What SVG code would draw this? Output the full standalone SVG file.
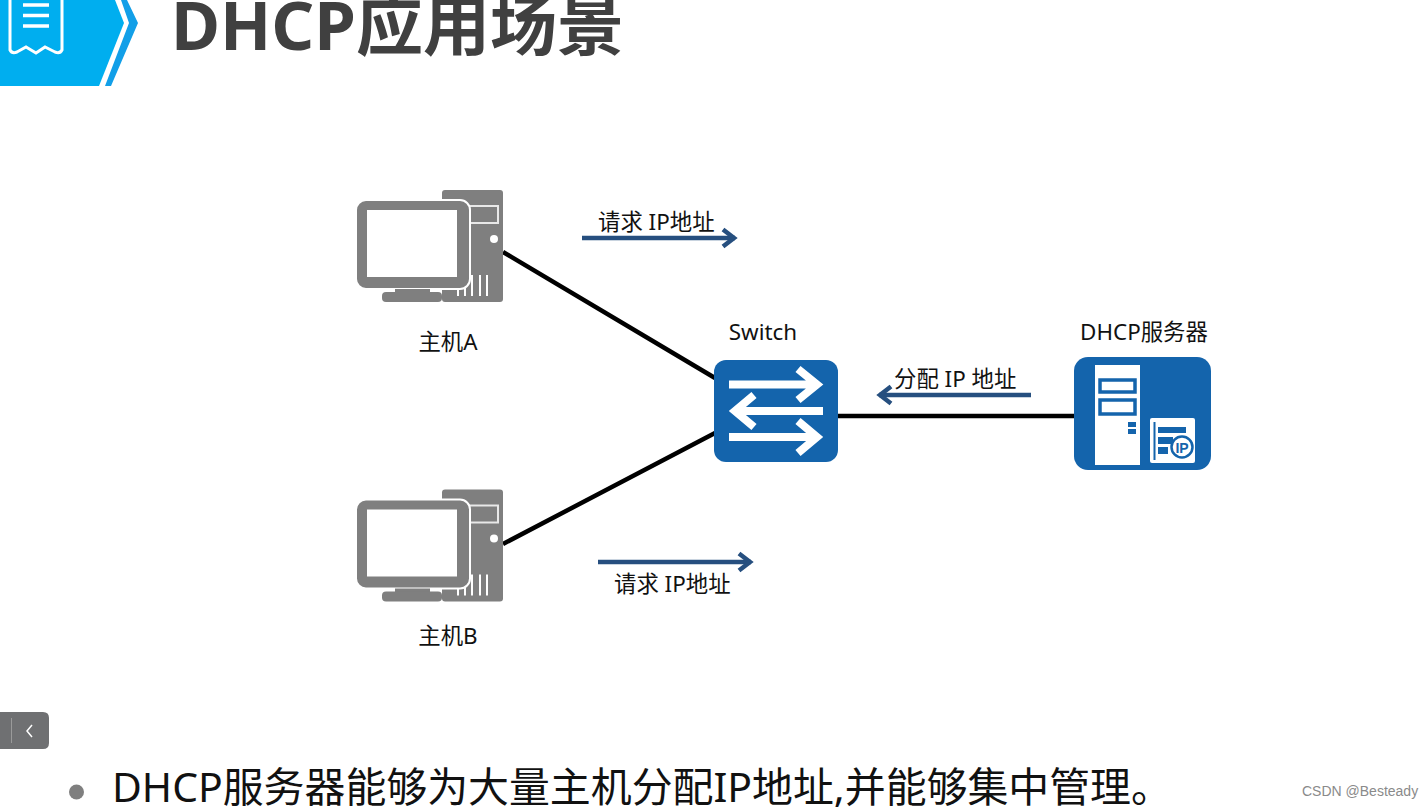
<svg xmlns="http://www.w3.org/2000/svg" width="1426" height="808" viewBox="0 0 1426 808">
<style>
text{font-family:"Noto Sans","Noto Sans CJK SC",sans-serif;fill:#111}
.lbl{font-size:22.400px}
.conn{stroke:#000;stroke-width:4.500;fill:none}
.flow{stroke:#264f7f;stroke-width:4.500;fill:none}
.gr{fill:#7f7f7f}
.ws{stroke:#fff;fill:none}
.sw{stroke:#fff;stroke-width:8;fill:none}
.blue{fill:#1464ac}
.slot{fill:#fff;stroke:#1464ac;stroke-width:3.500}
</style>
<defs>
<g id="pc">
<rect class="gr" x="442" y="190" width="61" height="112" rx="3"/>
<rect x="465" y="206" width="33" height="17" fill="none" stroke="#e8e8e8" stroke-width="2"/>
<circle cx="494" cy="239" r="4" fill="#fff"/>
<path class="ws" stroke-width="2" d="M458 287V296M465 287V296M472 275V296M480 275V296M487 275V296"/>
<rect x="356" y="200" width="114" height="89" rx="10" class="gr" stroke="#fff" stroke-width="2"/>
<rect x="367" y="210" width="90" height="67" fill="#fff"/>
<rect class="gr" x="395" y="289" width="35" height="5"/>
<rect class="gr" x="382" y="292" width="60" height="10" rx="4"/>
</g>
<marker id="ah" markerUnits="userSpaceOnUse" markerWidth="22" markerHeight="24" refX="15" refY="12" orient="auto"><path d="M3 3.500L14 12L3 20.500" fill="none" stroke="#264f7f" stroke-width="4.500"/></marker>
</defs>
<rect width="1426" height="808" fill="#fff"/>
<g id="header">
<path d="M0 0H115L124 23L99 86H0Z" fill="#00aeef"/>
<path d="M121 0H127L138 23L111 86H105L129 23Z" fill="#129fe8"/>
<path d="M10 -4V50Q12 54 17 52L26 47L36 53L45 47L55 52Q60 54 62 50V-4" fill="none" stroke="#fff" stroke-width="3"/>
<path d="M23 5H49M23 15.500H49M23 26H49" stroke="#fff" stroke-width="3.500" fill="none"/>
<text x="171" y="50" font-size="67" font-weight="700" style="fill:#404040">DHCP应用场景</text>
</g>
<g id="connectors">
<path class="conn" d="M503 252L715 378M503 544L715 433M838 416H1074"/>
<path class="flow" marker-end="url(#ah)" d="M582 238H735"/>
<path class="flow" marker-end="url(#ah)" d="M1031 395H879"/>
<path class="flow" marker-end="url(#ah)" d="M598 562H751"/>
</g>
<g id="host-a"><use href="#pc"/><text class="lbl" x="448" y="350" text-anchor="middle">主机A</text></g>
<g id="host-b"><use href="#pc" y="299.500"/><text class="lbl" x="448" y="644" text-anchor="middle">主机B</text></g>
<g id="switch">
<rect class="blue" x="714" y="360" width="124" height="102" rx="12"/>
<path class="sw" d="M729 384.500H815M798 369L817 384.500L798 400"/>
<path class="sw" d="M823 411H737M754 395L735 411L754 427"/>
<path class="sw" d="M729 437H815M798 421L817 437L798 453"/>
<text class="lbl" x="763" y="340" text-anchor="middle">Switch</text>
</g>
<g id="dhcp-server">
<rect class="blue" x="1074" y="357" width="137" height="113" rx="14"/>
<rect x="1095" y="365" width="45" height="100" fill="#fff"/>
<rect class="slot" x="1100" y="380" width="35" height="12"/>
<rect class="slot" x="1100" y="400" width="35" height="14"/>
<rect class="blue" x="1128" y="422" width="8" height="5"/>
<rect class="blue" x="1128" y="429" width="8" height="5"/>
<rect x="1150" y="418" width="45" height="45" rx="2" fill="#fff"/>
<rect class="blue" x="1153.500" y="422" width="2" height="38"/>
<rect class="blue" x="1158" y="427" width="28" height="6"/>
<rect class="blue" x="1158" y="437" width="15" height="7"/>
<rect class="blue" x="1158" y="447" width="10" height="7"/>
<circle cx="1182" cy="447" r="10.500" fill="#fff" stroke="#1464ac" stroke-width="2.500"/>
<text x="1182" y="452.500" font-size="14" font-weight="700" text-anchor="middle" style="font-family:'Liberation Sans',sans-serif;fill:#1464ac">IP</text>
<text class="lbl" x="1144" y="340" text-anchor="middle">DHCP服务器</text>
</g>
<g id="labels">
<text class="lbl" x="598" y="230">请求 IP地址</text>
<text class="lbl" x="894" y="387">分配 IP 地址</text>
<text class="lbl" x="614" y="592">请求 IP地址</text>
</g>
<g id="nav">
<path d="M0 712H43Q49 712 49 718V743Q49 749 43 749H0Z" fill="#6f7072"/>
<path d="M11.500 718V743" stroke="#9a9a9a" stroke-width="1"/>
<path d="M32 725L27 731L32 737" fill="none" stroke="#fff" stroke-width="1.500"/>
</g>
<g id="bullet">
<circle cx="76.500" cy="792" r="7.500" fill="#7f7f7f"/>
<text x="112" y="802" font-size="40.900">DHCP服务器能够为大量主机分配IP地址,并能够集中管理。</text>
</g>
<text x="1302" y="796" font-size="14" style="font-family:'Liberation Sans',sans-serif;fill:#8a8a8a">CSDN @Besteady</text>
</svg>
